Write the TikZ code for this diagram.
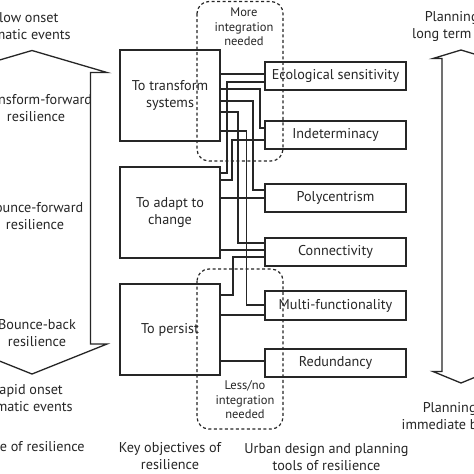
\documentclass[tikz,border=0pt]{standalone}
\usepackage{fontspec}
\setmainfont{PT Sans}
\definecolor{ink}{HTML}{262626}
\tikzset{
  boxtext/.style={font=\fontsize{14.2}{17}\selectfont, text=ink, align=center},
  objbox/.style={boxtext, draw=ink, line width=1.3pt, minimum width=100pt, minimum height=91pt, inner sep=0pt},
  toolbox/.style={boxtext, draw=ink, line width=1.3pt, minimum width=141pt, minimum height=28pt, inner sep=0pt},
  conn/.style={draw=ink, line width=1.2pt},
  dashbox/.style={draw=ink, line width=1.2pt, dash pattern=on 3pt off 2.5pt, rounded corners=12pt},
  bigarrow/.style={draw=ink, line width=1.3pt, line join=miter},
  label/.style={font=\fontsize{14.2}{17}\selectfont, text=ink, align=center},
  smalllabel/.style={font=\fontsize{12.5}{14.5}\selectfont, text=ink, align=center},
}
\begin{document}
\begin{tikzpicture}[x=1pt,y=-1pt]
\useasboundingbox (0,0) rectangle (474,474);
\clip (0,0) rectangle (474,474);
\fill[white] (0,0) rectangle (474,474);

% objective boxes
\node[objbox] (T) at (170,95.5) {To transform\\systems};
\node[objbox] (A) at (170,212.5) {To adapt to\\change};
\node[objbox] (P) at (170,329.5) {To persist};

% tool boxes
\node[toolbox] (Eco) at (335.5,76) {Ecological sensitivity};
\node[toolbox] (Ind) at (335.5,135) {Indeterminacy};
\node[toolbox] (Poly) at (335.5,198) {Polycentrism};
\node[toolbox] (Conn) at (335.5,252) {Connectivity};
\node[toolbox, minimum height=29pt] (Multi) at (335.5,305.5) {Multi-functionality};
\node[toolbox] (Red) at (335.5,363) {Redundancy};

% connectors
\draw[conn] (T.east |- 0,74) -- (Eco.west |- 0,74);
\draw[conn] (T.east |- 0,89) -| (260,128) -- (Ind.west |- 0,128);
\draw[conn] (T.east |- 0,101) -| (253,190) -- (Poly.west |- 0,190);
\draw[conn] (T.east |- 0,112) -| (238,243) -- (Conn.west |- 0,243);
\draw[conn] (T.east |- 0,131) -| (246.5,305) -- (Multi.west |- 0,305);
\draw[conn] (A.east |- 0,173) -| (227,82) -- (Eco.west |- 0,82);
\draw[conn] (A.east |- 0,180) -| (232,140) -- (Ind.west |- 0,140);
\draw[conn] (A.east |- 0,198) -- (Poly.west |- 0,198);
\draw[conn] (A.east |- 0,250) -- (Conn.west |- 0,250);
\draw[conn] (P.east |- 0,295) -| (233,257) -- (Conn.west |- 0,257);
\draw[conn] (P.east |- 0,315) -- (Multi.west |- 0,315);
\draw[conn] (P.east |- 0,361) -- (Red.west |- 0,361);

% dashed integration regions
\draw[dashbox] (197,1.5) rectangle (283,161);
\draw[dashbox] (197,269) rectangle (283,429);
\node[smalllabel] (more) at (244,27) {More\\integration\\needed};
\node[smalllabel] (less) at (245,400) {Less/no\\integration\\needed};

% left double arrow
\draw[bigarrow] (-26.5,72.5) -- (-43,72.5) -- (32,50.5) -- (107,72.5) -- (90.5,72.5)
  -- (90.5,344) -- (107,344) -- (32,374) -- (-43,344) -- (-26.5,344) -- cycle;
% right double arrow
\draw[bigarrow] (442,58.5) -- (433,58.5) -- (461,50) -- (489,58.5) -- (480,58.5)
  -- (480,371.5) -- (489,371.5) -- (461,383) -- (433,371.5) -- (442,371.5) -- cycle;

% left column labels
\node[label] (slow) at (25,26.5) {Slow onset\\climatic events};
\node[label] (tf) at (36,108.5) {Transform-forward\\resilience};
\node[label] (bf) at (35,216) {Bounce-forward\\resilience};
\node[label] (bb) at (37,333.5) {Bounce-back\\resilience};
\node[label] (rapid) at (27,398.5) {Rapid onset\\climatic events};
\node[label] (type) at (32,448) {Type of resilience};

% right column labels
\node[label] (longt) at (462,26) {Planning for\\long term future};
\node[label] (imm) at (460,416) {Planning for\\immediate benefits};

% bottom labels
\node[label] (keyobj) at (170,456.5) {Key objectives of\\resilience};
\node[label] (tools) at (326.5,457) {Urban design and planning\\tools of resilience};
\end{tikzpicture}
\end{document}
